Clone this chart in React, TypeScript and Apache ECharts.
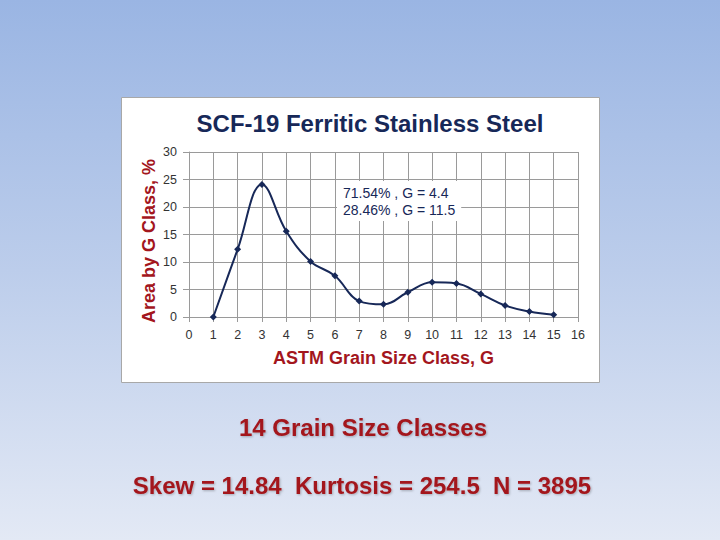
// Distribuicao de classes de tamanho de grao (ASTM G) para o aco SCF-19,
// desenhada como uma curva suavizada com marcadores em losango.
import { useEffect, useRef } from 'react'
import * as echarts from 'echarts'

const CLASSES_G = [1, 2, 3, 4, 5, 6, 7, 8, 9, 10, 11, 12, 13, 14, 15]
const AREA_PCT = [0, 12.3, 24.1, 15.6, 10.1, 7.5, 2.9, 2.3, 4.5, 6.3, 6.1, 4.2, 2.1, 1.0, 0.4]

const TITULO = 'SCF-19 Ferritic Stainless Steel'
const EIXO_X = 'ASTM Grain Size Class, G'
const EIXO_Y = 'Area by G Class, %'
const NOTAS = ['71.54% , G = 4.4', '28.46% , G = 11.5']
const SUBTITULO = '14 Grain Size Classes'
const ESTATISTICAS = 'Skew = 14.84  Kurtosis = 254.5  N = 3895'

const AZUL = '#172858'
const VERMELHO = '#a3161d'
const GRADE = '#9a9a9a'
const FONTE = 'Liberation Sans, Arial, sans-serif'

const SOMBRA = {
  textShadowColor: 'rgba(0,0,0,0.25)',
  textShadowBlur: 2,
  textShadowOffsetX: 1,
  textShadowOffsetY: 1,
}

export default function App() {
  const ref = useRef<HTMLDivElement>(null)

  useEffect(() => {
    if (!ref.current) return
    const chart = echarts.init(ref.current, null, { renderer: 'svg' })

    chart.setOption({
      animation: false,
      backgroundColor: new echarts.graphic.LinearGradient(0, 0, 0, 1, [
        { offset: 0, color: '#9ab5e3' },
        { offset: 0.5, color: '#bccdeb' },
        { offset: 1, color: '#e3e9f5' },
      ]),
      textStyle: { fontFamily: FONTE },
      graphic: [
        {
          type: 'rect',
          z: -1,
          shape: { x: 121.5, y: 97.5, width: 478, height: 285 },
          style: { fill: '#ffffff', stroke: '#a8a8a8', lineWidth: 1 },
        },
        {
          type: 'text',
          x: 149,
          y: 241,
          rotation: Math.PI / 2,
          style: {
            text: EIXO_Y,
            fill: VERMELHO,
            font: `bold 18px ${FONTE}`,
            align: 'center',
            verticalAlign: 'middle',
          },
        },
      ],
      title: [
        {
          text: TITULO,
          left: 365,
          top: 106,
          textAlign: 'center',
          textStyle: { fontSize: 24, fontWeight: 'bold', color: AZUL, fontFamily: FONTE },
        },
        {
          text: NOTAS.join('\n'),
          left: 337,
          top: 181,
          backgroundColor: '#ffffff',
          padding: [3, 6, 3, 6],
          textStyle: { fontSize: 14, fontWeight: 'normal', color: AZUL, lineHeight: 17, fontFamily: FONTE },
        },
        {
          text: SUBTITULO,
          left: 358,
          top: 410,
          textAlign: 'center',
          textStyle: { fontSize: 24, fontWeight: 'bold', color: VERMELHO, fontFamily: FONTE, ...SOMBRA },
        },
        {
          text: ESTATISTICAS,
          left: 357,
          top: 468,
          textAlign: 'center',
          textStyle: { fontSize: 24, fontWeight: 'bold', color: VERMELHO, fontFamily: FONTE, ...SOMBRA },
        },
      ],
      grid: { left: 189, right: 142, top: 152, bottom: 223 },
      xAxis: {
        type: 'value',
        min: 0,
        max: 16,
        interval: 1,
        name: EIXO_X,
        nameLocation: 'middle',
        nameGap: 32,
        nameTextStyle: { fontSize: 18, fontWeight: 'bold', color: VERMELHO, fontFamily: FONTE },
        axisLine: { show: true, lineStyle: { color: GRADE } },
        axisTick: { show: true, length: 5, lineStyle: { color: GRADE } },
        axisLabel: { margin: 11, fontSize: 12.5, color: '#333333', fontFamily: FONTE },
        splitLine: { show: true, lineStyle: { color: GRADE, width: 1 } },
      },
      yAxis: {
        type: 'value',
        min: 0,
        max: 30,
        interval: 5,
        axisLine: { show: true, lineStyle: { color: GRADE } },
        axisTick: { show: true, length: 6, lineStyle: { color: GRADE } },
        axisLabel: { margin: 12, fontSize: 12.5, color: '#333333', fontFamily: FONTE },
        splitLine: { show: true, lineStyle: { color: GRADE, width: 1 } },
      },
      series: [
        {
          type: 'line',
          data: CLASSES_G.map((g, i) => [g, AREA_PCT[i]]),
          smooth: 0.4,
          symbol: 'diamond',
          symbolSize: 7,
          lineStyle: { color: AZUL, width: 2 },
          itemStyle: { color: AZUL },
        },
      ],
    })

    return () => chart.dispose()
  }, [])

  return <div ref={ref} style={{ position: 'absolute', left: 0, top: 0, width: 720, height: 540 }} />
}
